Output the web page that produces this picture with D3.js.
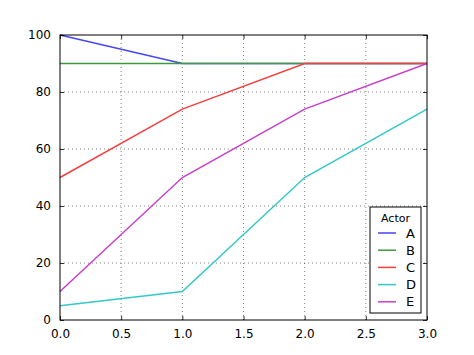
<!DOCTYPE html>
<html>
<head>
<meta charset="utf-8">
<script src="https://cdn.jsdelivr.net/npm/d3@7"></script>
<style>
  body { margin: 0; background: #fff; }
  text { font-family: "DejaVu Sans", sans-serif; }
</style>
</head>
<body>
<div id="chart"></div>
<script>
const xValues = [0, 1, 2, 3];
const seriesNames = ['A', 'B', 'C', 'D', 'E'];
const seriesColors = ['#4545f5', '#3f993f', '#f54040', '#35c8c8', '#c840c8'];
const valuesA = [100, 90, 90, 90];
const valuesB = [90, 90, 90, 90];
const valuesC = [50, 74, 90, 90];
const valuesD = [5, 10, 50, 74];
const valuesE = [10, 50, 74, 90];
const xTicks = [0, 0.5, 1, 1.5, 2, 2.5, 3];
const yTicks = [0, 20, 40, 60, 80, 100];
const legendTitle = 'Actor';

const allValues = [valuesA, valuesB, valuesC, valuesD, valuesE];

const width = 474, height = 355;
const margin = { left: 60, top: 35, right: 47, bottom: 35 };
const plotW = width - margin.left - margin.right;
const plotH = height - margin.top - margin.bottom;

const svg = d3.select('#chart').append('svg')
    .attr('width', width)
    .attr('height', height);

const g = svg.append('g')
    .attr('transform', `translate(${margin.left},${margin.top})`);

const x = d3.scaleLinear().domain([0, 3]).range([0, plotW]);
const y = d3.scaleLinear().domain([0, 100]).range([plotH, 0]);

// grid
g.selectAll('.gx').data(xTicks.slice(1, -1)).enter().append('line')
    .attr('x1', d => x(d)).attr('x2', d => x(d))
    .attr('y1', 0).attr('y2', plotH)
    .attr('stroke', '#000').attr('stroke-width', 0.5)
    .attr('stroke-dasharray', '1,3');
g.selectAll('.gy').data(yTicks.slice(1, -1)).enter().append('line')
    .attr('x1', 0).attr('x2', plotW)
    .attr('y1', d => y(d)).attr('y2', d => y(d))
    .attr('stroke', '#000').attr('stroke-width', 0.5)
    .attr('stroke-dasharray', '1,3');

// lines
const line = d3.line()
    .x((d, i) => x(xValues[i]))
    .y(d => y(d));

allValues.forEach((vals, i) => {
    g.append('path')
        .attr('d', line(vals))
        .attr('fill', 'none')
        .attr('stroke', seriesColors[i])
        .attr('stroke-width', 1.5);
});

// axes (ticks inside, classic style)
const fmtX = d3.format('.1f');
const xAxis = g.append('g').attr('transform', `translate(0,${plotH})`)
    .call(d3.axisBottom(x).tickValues(xTicks).tickSize(-4).tickPadding(9).tickFormat(fmtX));
const xAxisTop = g.append('g')
    .call(d3.axisTop(x).tickValues(xTicks).tickSize(-4).tickFormat(''));
const yAxis = g.append('g')
    .call(d3.axisLeft(y).tickValues(yTicks).tickSize(-4).tickPadding(9));
const yAxisRight = g.append('g').attr('transform', `translate(${plotW},0)`)
    .call(d3.axisRight(y).tickValues(yTicks).tickSize(-4).tickFormat(''));

[xAxis, xAxisTop, yAxis, yAxisRight].forEach(a => {
    a.select('.domain').remove();
    a.selectAll('line').attr('stroke', '#000').attr('stroke-width', 0.8);
    a.selectAll('text').style('font-size', '12px').attr('fill', '#000')
        .style('font-family', '"DejaVu Sans", sans-serif');
});

// frame
g.append('rect')
    .attr('width', plotW).attr('height', plotH)
    .attr('fill', 'none').attr('stroke', '#000').attr('stroke-width', 1);

// legend
const lg = svg.append('g').attr('transform', 'translate(370,207)');
lg.append('rect')
    .attr('width', 51).attr('height', 106)
    .attr('fill', '#fff').attr('stroke', '#000').attr('stroke-width', 1);
lg.append('text')
    .attr('x', 25.5).attr('y', 15)
    .attr('text-anchor', 'middle')
    .style('font-size', '11px')
    .text(legendTitle);
seriesNames.forEach((name, i) => {
    const yy = 26 + i * 17.2;
    lg.append('line')
        .attr('x1', 8).attr('x2', 26)
        .attr('y1', yy).attr('y2', yy)
        .attr('stroke', seriesColors[i]).attr('stroke-width', 1.5);
    lg.append('text')
        .attr('x', 36).attr('y', yy + 4.5)
        .style('font-size', '13px')
        .text(name);
});
</script>
</body>
</html>
